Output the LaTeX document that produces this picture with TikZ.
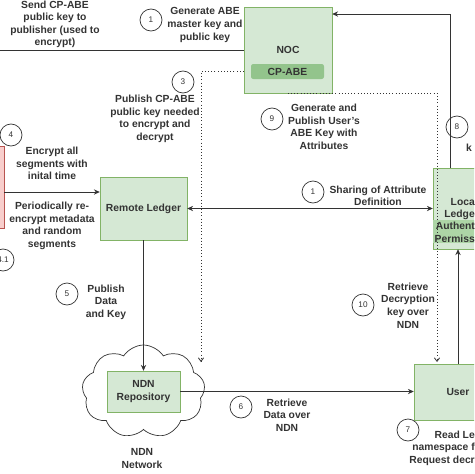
\documentclass[tikz,border=0pt]{standalone}
\usepackage{fontspec}
\setmainfont{Liberation Sans}
\usetikzlibrary{arrows.meta,shapes.symbols}
\definecolor{boxfill}{HTML}{D5E8D4}
\definecolor{boxline}{HTML}{82B366}
\definecolor{abefill}{HTML}{93C48C}
\definecolor{authfill}{HTML}{ADD5A6}
\definecolor{pubfill}{HTML}{F8CECC}
\definecolor{publine}{HTML}{B85450}
\definecolor{wire}{HTML}{333333}
\begin{document}
\begin{tikzpicture}[x=0.03cm,y=-0.03cm,
  every node/.style={font=\bfseries\fontsize{8.8}{10.7}\selectfont,text=wire},
  entity/.style={draw=boxline,fill=boxfill,inner sep=0pt,align=center},
  abebox/.style={fill=abefill,rounded corners=2pt,inner sep=0pt},
  pubbox/.style={draw=publine,fill=pubfill,inner sep=0pt},
  num/.style={circle,draw=wire,line width=0.6pt,minimum size=0.66cm,inner sep=0pt,font=\fontsize{7}{8}\selectfont},
  note/.style={align=center,inner sep=0pt},
  cut/.style={align=right,inner sep=0pt,anchor=east},
  flow/.style={draw=wire,line width=0.7pt,-{Stealth[length=5pt,width=4.5pt]}},
  keyflow/.style={draw=wire,line width=0.7pt,dotted,-{Straight Barb[length=3pt,width=4.5pt]}}]
\useasboundingbox (0,0) rectangle (474,474);
\clip (0,0) rectangle (474,474);

\node[entity,minimum width=2.64cm,minimum height=2.58cm] (noc) at (288,50) {NOC};
\node[abebox,minimum width=2.19cm,minimum height=0.45cm] (cpabe) at (287.5,71.5) {CP-ABE};
\node[pubbox,minimum width=2.64cm,minimum height=2.46cm] (pub) at (-40,187) {};
\node[entity,minimum width=2.61cm,minimum height=1.89cm] (remote) at (143.5,208.5) {Remote Ledger};
\node[cloud,draw=wire,fill=white,line width=0.6pt,cloud puffs=9,cloud puff arc=115,minimum width=3.69cm,minimum height=2.79cm] (ndn) at (143.5,391.5) {};
\node[entity,minimum width=2.19cm,minimum height=1.23cm] (repo) at (143.5,391.5) {NDN\\Repository};
\node[entity,minimum width=2.64cm,minimum height=1.68cm] (user) at (458,392) {User};
\node[entity,minimum width=1.98cm,minimum height=2.43cm] (local) at (466,208.5) {};
\node[fill=authfill,minimum width=1.98cm,minimum height=0.69cm,inner sep=0pt] (auth) at (466,231.5) {};
\node[cut] (locname) at (475,209) {Loca\\Ledge};
\node[cut] (authname) at (475,232.5) {Authent\\Permiss};

\draw[flow] (noc.west) -- (-20,50);
\draw[flow] (pub.east |- 0,192) -- (remote.west |- 0,192);
\draw[draw=wire,line width=0.7pt,{Stealth[length=5pt,width=4.5pt]}-{Stealth[length=5pt,width=4.5pt]}] (remote.east) -- (local.west);
\draw[flow] (remote.south) -- (repo.north);
\draw[flow] (repo.east) -- (user.west |- repo.east);
\draw[flow] (user.north) -- (user.north |- local.south);
\draw[flow] (local.north -| 450,0) |- (noc.east |- 0,14);
\draw[keyflow] (noc.west |- cpabe) -| (201,362);
\draw[keyflow] (noc.south) -| (437,362);

\node[note] (sendtxt) at (55,24.5) {Send CP-ABE\\public key to\\publisher (used to\\encrypt)};
\node[num] (n1) at (151,20) {1};
\node[note] (gentxt) at (205,25) {Generate ABE\\master key and\\public key};
\node[num] (n3) at (183,82) {3};
\node[note] (pubtxt) at (155,119) {Publish CP-ABE\\public key needed\\to encrypt and\\decrypt};
\node[num] (n9) at (272,119) {9};
\node[note] (usertxt) at (324,127) {Generate and\\Publish User's\\ABE Key with\\Attributes};
\node[num] (n4) at (11,135) {4};
\node[note] (enctxt) at (52,163.5) {Encrypt all\\segments with\\inital time};
\node[note] (reenctxt) at (52,226) {Periodically re-\\encrypt metadata\\and random\\segments};
\node[num] (n41) at (3,260) {4.1};
\node[num] (n5) at (67,294) {5};
\node[note] (datatxt) at (106,302) {Publish\\Data\\and Key};
\node[num] (n1b) at (313,192) {1};
\node[note] (sharetxt) at (378,196) {Sharing of Attribute\\Definition};
\node[num] (n8) at (457,127) {8};
\node[note] (ktxt) at (469,148) {k};
\node[num] (n10) at (363,305) {10};
\node[note] (dectxt) at (408,305.5) {Retrieve\\Decryption\\key over\\NDN};
\node[num] (n6) at (241,407) {6};
\node[note] (gettxt) at (287,415) {Retrieve\\Data over\\NDN};
\node[note] (ndntxt) at (142,458.5) {NDN\\Network};
\node[num] (n7) at (408,430) {7};
\node[cut] (readtxt) at (475,448) {Read Le\\namespace f\\Request decr};
\end{tikzpicture}
\end{document}
